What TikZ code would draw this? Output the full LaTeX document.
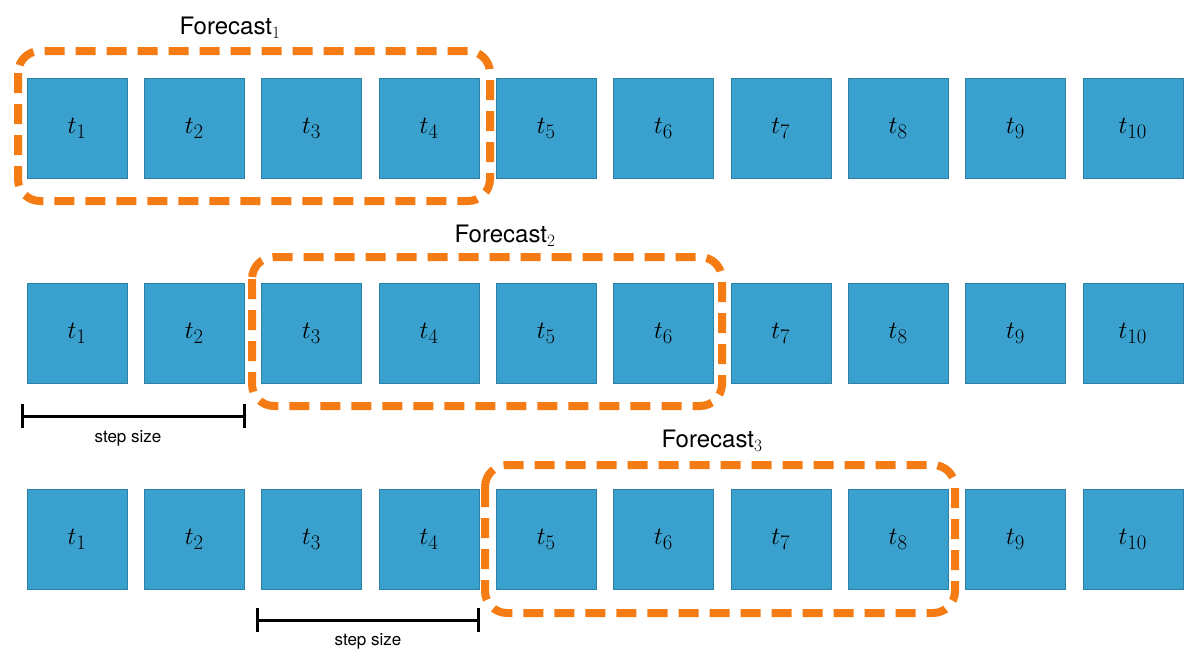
\documentclass[tikz,border=0pt]{standalone}
\usepackage{fontspec}
\setsansfont{TeX Gyre Heros}
\begin{document}
\begin{tikzpicture}[x=1pt,y=-1pt,
  cell/.style={fill=cellblue,draw=cellblue!80!black,line width=0.4pt,minimum size=100pt,inner sep=0pt,font=\fontsize{30}{30}\selectfont},
  fc/.style={draw=fcorange,line width=8pt,dash pattern=on 20pt off 11pt,rounded corners=22pt},
  lab/.style={font=\sffamily\fontsize{24}{24}\selectfont},
  bar/.style={line width=3pt},
  small/.style={font=\sffamily\fontsize{17}{17}\selectfont}]
\definecolor{cellblue}{HTML}{3AA1CE}
\definecolor{fcorange}{HTML}{F57C14}
\useasboundingbox (0,0) rectangle (1200,659);
\foreach \r/\y in {1/128,2/333,3/539}{
  \foreach \i in {1,...,10}{
    \node[cell] (c\r-\i) at ({77+117.3*(\i-1)},\y) {$t_{\i}$};
  }
}
\draw[fc] (18,51) rectangle (490,201);
\draw[fc] (252,257) rectangle (722,406);
\draw[fc] (485,465) rectangle (955,613);
\node[lab] (f1) at (230,28) {Forecast$_1$};
\node[lab] (f2) at (505,236) {Forecast$_2$};
\node[lab] (f3) at (712,441) {Forecast$_3$};
\coordinate (a1) at (22,416); \coordinate (a2) at (244,416);
\draw[bar] (a1) -- (a2);
\draw[bar] ([yshift=-12]a1) -- ([yshift=12]a1);
\draw[bar] ([yshift=-12]a2) -- ([yshift=12]a2);
\node[small] (s1) at (128,438) {step size};
\coordinate (b1) at (257,620); \coordinate (b2) at (478,620);
\draw[bar] (b1) -- (b2);
\draw[bar] ([yshift=-12]b1) -- ([yshift=12]b1);
\draw[bar] ([yshift=-12]b2) -- ([yshift=12]b2);
\node[small] (s2) at (368,641) {step size};
\end{tikzpicture}
\end{document}
